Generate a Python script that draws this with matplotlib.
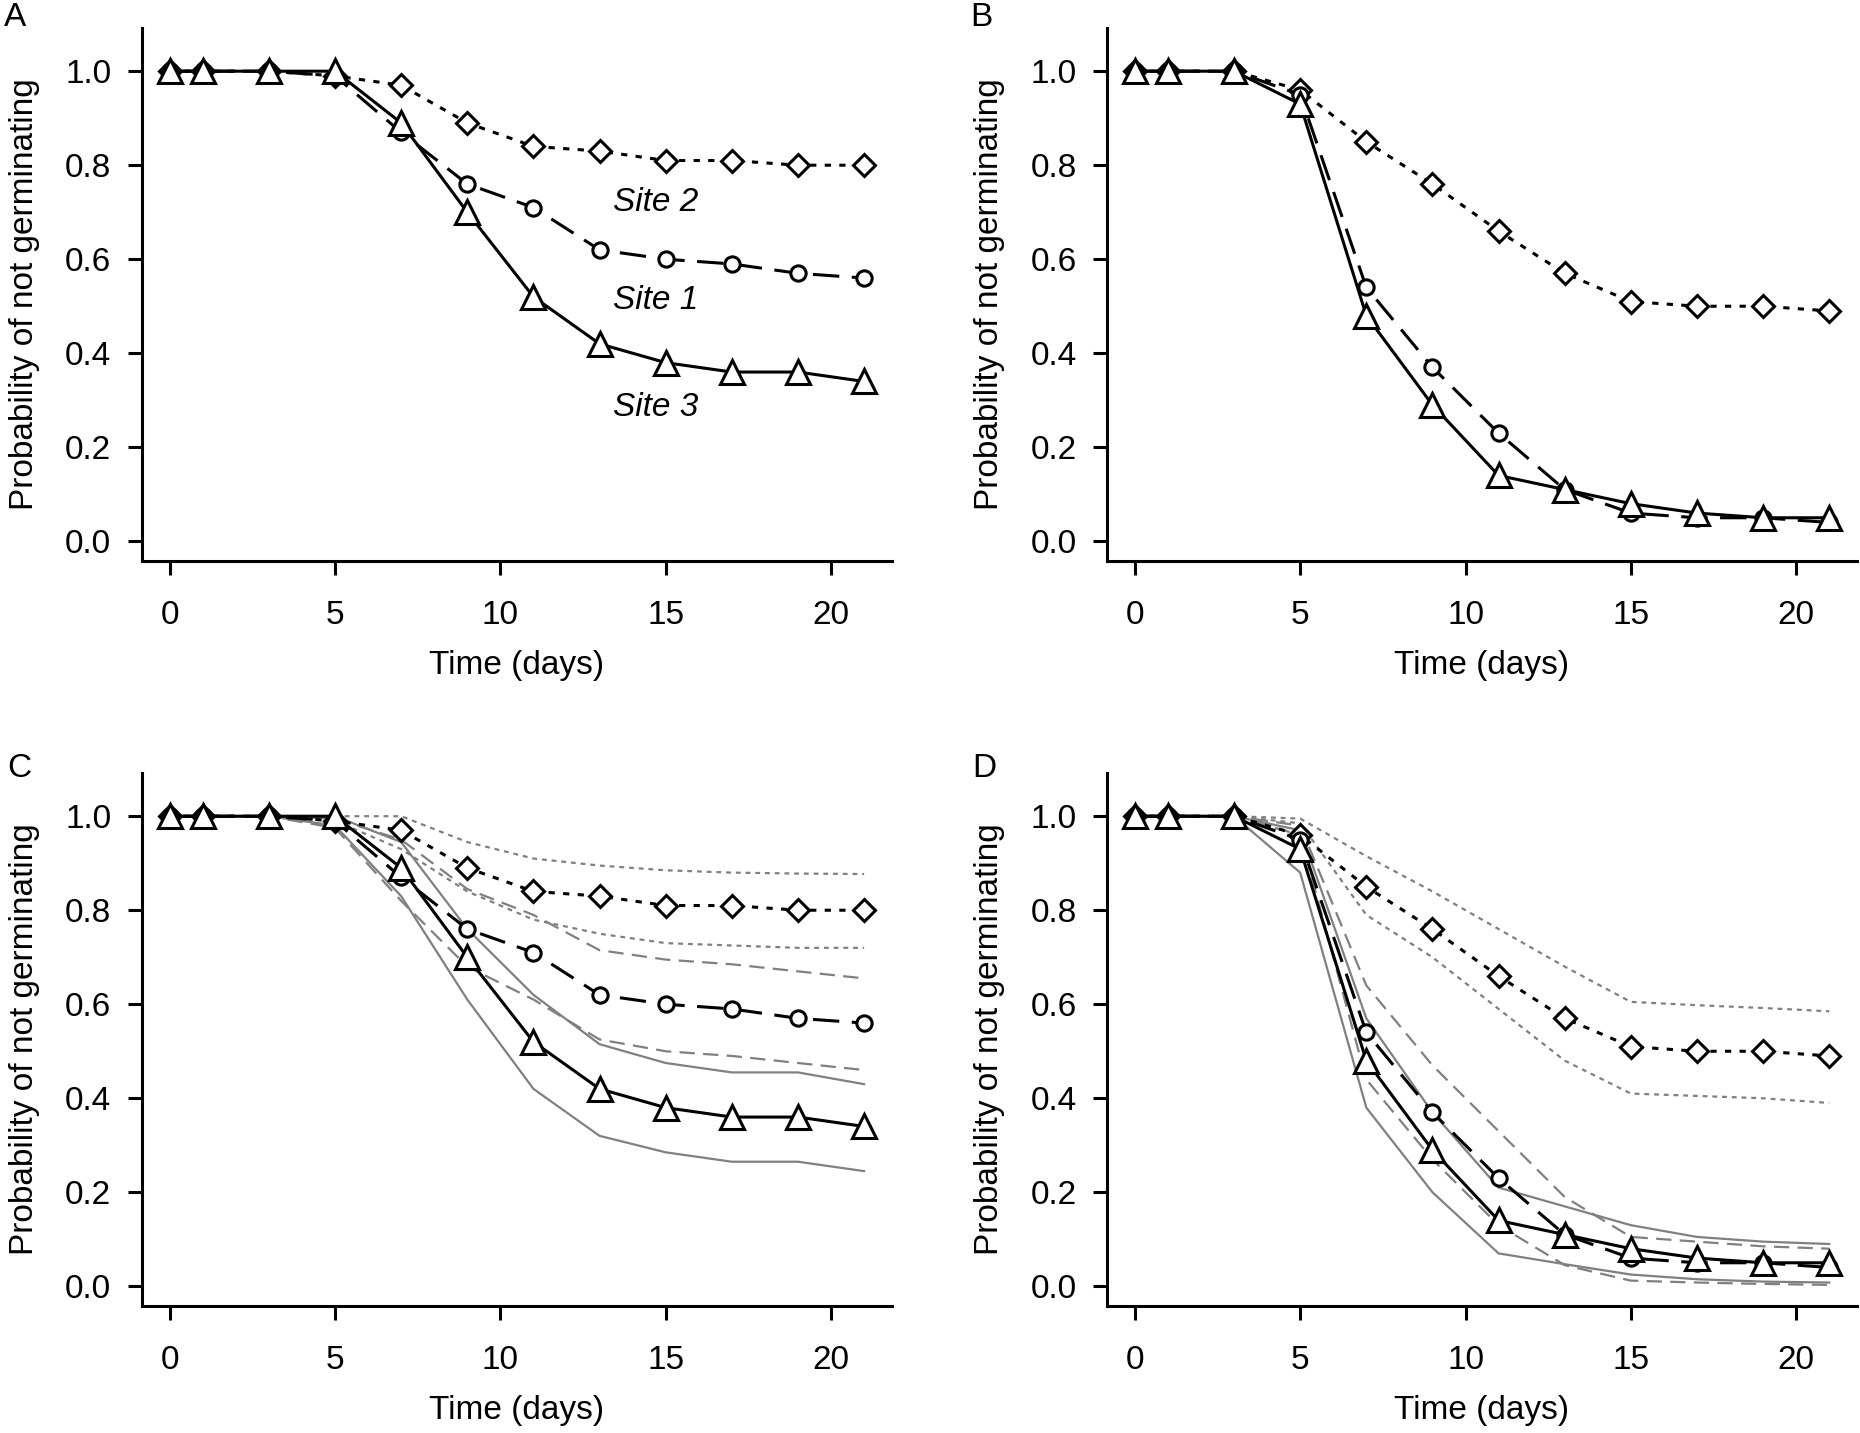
import matplotlib
matplotlib.use('Agg')
import matplotlib.pyplot as plt

plt.rcParams['font.family'] = ['Liberation Sans', 'DejaVu Sans']
plt.rcParams['lines.scale_dashes'] = False

# ── data ────────────────────────────────────────────────────
days = [0, 1, 3, 5, 7, 9, 11, 13, 15, 17, 19, 21]

# panels A and C (black lines)
a_site2 = [1, 1, 1, 0.99, 0.97, 0.89, 0.84, 0.83, 0.81, 0.81, 0.80, 0.80]
a_site1 = [1, 1, 1, 0.99, 0.87, 0.76, 0.71, 0.62, 0.60, 0.59, 0.57, 0.56]
a_site3 = [1, 1, 1, 1.00, 0.89, 0.70, 0.52, 0.42, 0.38, 0.36, 0.36, 0.34]

# panels B and D (black lines)
b_site2 = [1, 1, 1, 0.96, 0.85, 0.76, 0.66, 0.57, 0.51, 0.50, 0.50, 0.49]
b_site1 = [1, 1, 1, 0.95, 0.54, 0.37, 0.23, 0.11, 0.06, 0.05, 0.05, 0.04]
b_site3 = [1, 1, 1, 0.93, 0.48, 0.29, 0.14, 0.11, 0.08, 0.06, 0.05, 0.05]

# panel C bands (grey)
c_site2_hi = [1, 1, 1, 1.00, 1.00, 0.945, 0.91, 0.895, 0.885, 0.88, 0.878, 0.877]
c_site2_lo = [1, 1, 1, 0.99, 0.93, 0.84, 0.78, 0.75, 0.73, 0.725, 0.72, 0.72]
c_site1_hi = [1, 1, 1, 0.995, 0.95, 0.845, 0.79, 0.715, 0.695, 0.685, 0.67, 0.655]
c_site1_lo = [1, 1, 1, 0.975, 0.82, 0.68, 0.61, 0.525, 0.50, 0.49, 0.475, 0.46]
c_site3_hi = [1, 1, 1, 1.00, 0.945, 0.76, 0.62, 0.515, 0.475, 0.455, 0.455, 0.43]
c_site3_lo = [1, 1, 1, 0.98, 0.83, 0.61, 0.42, 0.32, 0.285, 0.265, 0.265, 0.245]

# panel D bands (grey)
d_site2_hi = [1, 1, 1, 0.995, 0.915, 0.84, 0.76, 0.68, 0.605, 0.598, 0.592, 0.585]
d_site2_lo = [1, 1, 1, 0.985, 0.79, 0.70, 0.59, 0.48, 0.41, 0.405, 0.40, 0.39]
d_site1_hi = [1, 1, 1, 0.98, 0.64, 0.47, 0.33, 0.19, 0.105, 0.095, 0.085, 0.08]
d_site1_lo = [1, 1, 1, 0.96, 0.44, 0.27, 0.13, 0.045, 0.012, 0.008, 0.005, 0.003]
d_site3_hi = [1, 1, 1, 0.97, 0.57, 0.37, 0.21, 0.17, 0.13, 0.105, 0.095, 0.09]
d_site3_lo = [1, 1, 1, 0.88, 0.38, 0.20, 0.07, 0.047, 0.025, 0.015, 0.01, 0.008]

x_ticks = [0, 5, 10, 15, 20]
y_ticks = [0.0, 0.2, 0.4, 0.6, 0.8, 1.0]
site_labels = ['Site 2', 'Site 1', 'Site 3']
site_label_y = [0.72, 0.513, 0.285]
panel_letters = ['A', 'B', 'C', 'D']

# ── styles ──────────────────────────────────────────────────
LW = 2.2
FS = 24
GREY = '#808080'
dot_black = (0, (4.5, 6))
dash_black = (0, (19, 9))
dot_grey = (0, (3.5, 3.5))
dash_grey = (0, (11, 6))

fig = plt.figure(figsize=(18.6, 14.33), dpi=100)
w, h = 0.4032, 0.3720
positions = [
    [0.0763, 0.6085, w, h],
    [0.5952, 0.6085, w, h],
    [0.0763, 0.0886, w, h],
    [0.5952, 0.0886, w, h],
]
axes = [fig.add_axes(p) for p in positions]


def black_lines(ax, s2, s1, s3):
    common = dict(color='black', lw=LW, markeredgewidth=LW,
                  markerfacecolor='white', markeredgecolor='black', zorder=3)
    ax.plot(days, s2, linestyle=dot_black, marker='D', markersize=11, **common)
    ax.plot(days, s1, linestyle=dash_black, marker='o', markersize=11, **common)
    ax.plot(days, s3, linestyle='-', marker='^', markersize=17, **common)


def grey_bands(ax, bands):
    for vals, ls in bands:
        ax.plot(days, vals, color=GREY, lw=1.6, linestyle=ls, zorder=2)


grey_bands(axes[2], [(c_site2_hi, dot_grey), (c_site2_lo, dot_grey),
                     (c_site1_hi, dash_grey), (c_site1_lo, dash_grey),
                     (c_site3_hi, '-'), (c_site3_lo, '-')])
grey_bands(axes[3], [(d_site2_hi, dot_grey), (d_site2_lo, dot_grey),
                     (d_site1_hi, dash_grey), (d_site1_lo, dash_grey),
                     (d_site3_hi, '-'), (d_site3_lo, '-')])

black_lines(axes[0], a_site2, a_site1, a_site3)
black_lines(axes[1], b_site2, b_site1, b_site3)
black_lines(axes[2], a_site2, a_site1, a_site3)
black_lines(axes[3], b_site2, b_site1, b_site3)

for lab, yy in zip(site_labels, site_label_y):
    axes[0].text(14.7, yy, lab, fontsize=FS, style='italic',
                 ha='center', va='center')

for ax in axes:
    ax.set_xlim(-0.84, 21.84)
    ax.set_ylim(-0.042, 1.092)
    ax.set_xticks(x_ticks)
    ax.set_yticks(y_ticks)
    ax.set_yticklabels([f'{v:.1f}' for v in y_ticks])
    for side in ['top', 'right']:
        ax.spines[side].set_visible(False)
    for side in ['left', 'bottom']:
        ax.spines[side].set_linewidth(LW)
    ax.tick_params(axis='both', direction='out', length=10, width=LW,
                   labelsize=FS)
    ax.tick_params(axis='x', pad=18)
    ax.tick_params(axis='y', pad=12)
    ax.set_xlabel('Time (days)', fontsize=FS, labelpad=14)
    ax.set_ylabel('Probability of not germinating', fontsize=FS, labelpad=18)

letter_pos = [(0.002, 0.9819), (0.5215, 0.9819), (0.004, 0.4578), (0.5225, 0.4578)]
for let, (lx, ly) in zip(panel_letters, letter_pos):
    fig.text(lx, ly, let, fontsize=FS, ha='left', va='baseline')

fig.savefig('out.png', dpi=100)
